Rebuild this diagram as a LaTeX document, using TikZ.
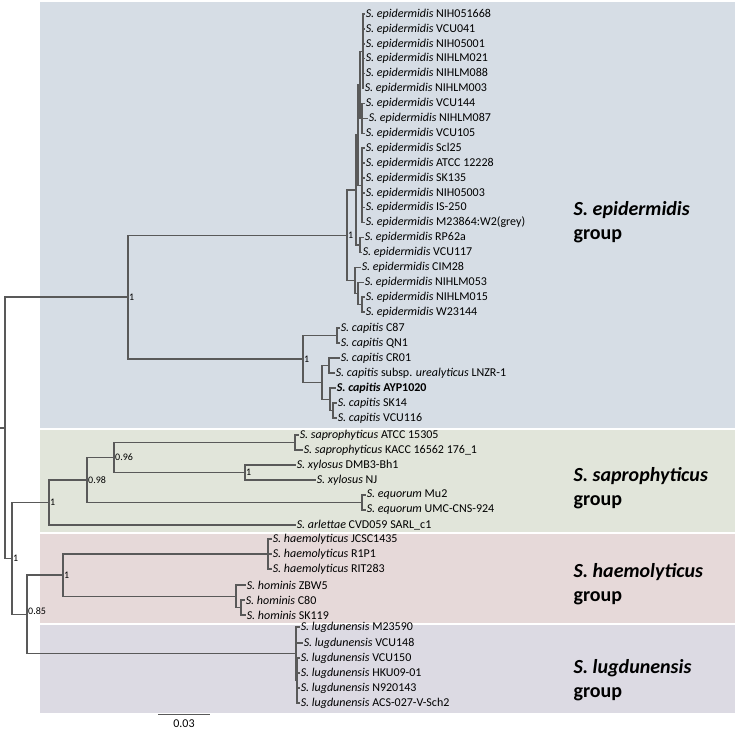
\documentclass[tikz,border=0pt]{standalone}
\usepackage{fontspec}
\setmainfont{Carlito}
\begin{document}
\begin{tikzpicture}[x=1pt,y=-1pt,
  leaf/.style={anchor=west,inner sep=0.6pt,font=\fontsize{12}{13}\selectfont},
  br/.style={draw=black!65,line width=1.4pt},
  sup/.style={anchor=west,inner sep=1pt,font=\fontsize{10}{11}\selectfont},
  grp/.style={anchor=west,align=left,font=\fontsize{20}{24}\selectfont\bfseries}]
\useasboundingbox (0,0) rectangle (735,732);
\fill[fill={rgb,255:red,214;green,221;blue,229}] (40,2) rectangle (735,428);
\fill[fill={rgb,255:red,225;green,229;blue,218}] (40,430) rectangle (735,532);
\fill[fill={rgb,255:red,230;green,217;blue,217}] (40,534) rectangle (735,623);
\fill[fill={rgb,255:red,220;green,218;blue,227}] (40,625) rectangle (735,713);
\newcommand\lf[5]{\node[leaf] (#1) at (#2,#3) {\textit{#4} #5};}
% epidermidis leaves
\lf{e0}{365}{14}{S. epidermidis}{NIH051668}
\lf{e1}{365}{28.9}{S. epidermidis}{VCU041}
\lf{e2}{365}{43.8}{S. epidermidis}{NIH05001}
\lf{e3}{365}{58.7}{S. epidermidis}{NIHLM021}
\lf{e4}{365}{73.6}{S. epidermidis}{NIHLM088}
\lf{e5}{364}{88.5}{S. epidermidis}{NIHLM003}
\lf{e6}{365}{103.4}{S. epidermidis}{VCU144}
\lf{e7}{368}{118.3}{S. epidermidis}{NIHLM087}
\lf{e8}{365}{133.2}{S. epidermidis}{VCU105}
\lf{e9}{365}{148.1}{S. epidermidis}{Scl25}
\lf{e10}{365}{163}{S. epidermidis}{ATCC 12228}
\lf{e11}{365}{177.9}{S. epidermidis}{SK135}
\lf{e12}{365}{192.8}{S. epidermidis}{NIH05003}
\lf{e13}{365}{207.7}{S. epidermidis}{IS-250}
\lf{e14}{365}{222.6}{S. epidermidis}{M23864:W2(grey)}
\lf{e15}{364}{237.5}{S. epidermidis}{RP62a}
\lf{e16}{362}{252.4}{S. epidermidis}{VCU117}
\lf{e17}{361}{267.3}{S. epidermidis}{CIM28}
\lf{e18}{364}{282.2}{S. epidermidis}{NIHLM053}
\lf{e19}{365}{297.1}{S. epidermidis}{NIHLM015}
\lf{e20}{365}{312}{S. epidermidis}{W23144}
% capitis
\lf{c0}{340}{328}{S. capitis}{C87}
\lf{c1}{340}{343}{S. capitis}{QN1}
\lf{c2}{340}{358}{S. capitis}{CR01}
\node[leaf] (c3) at (335,373) {\textit{S. capitis} subsp. \textit{urealyticus} LNZR-1};
\node[leaf] (c4) at (336,388) {\bfseries\textit{S. capitis} AYP1020};
\lf{c5}{337}{403}{S. capitis}{SK14}
\lf{c6}{337}{418}{S. capitis}{VCU116}
% saprophyticus group
\lf{s0}{299}{435}{S. saprophyticus}{ATCC 15305}
\lf{s1}{303}{450}{S. saprophyticus}{KACC 16562 176\_1}
\lf{s2}{296}{465}{S. xylosus}{DMB3-Bh1}
\lf{s3}{316}{480}{S. xylosus}{NJ}
\lf{s4}{366}{495}{S. equorum}{Mu2}
\lf{s5}{366}{510}{S. equorum}{UMC-CNS-924}
\lf{s6}{296}{525}{S. arlettae}{CVD059 SARL\_c1}
% haemolyticus group
\lf{h0}{272}{539}{S. haemolyticus}{JCSC1435}
\lf{h1}{272}{554}{S. haemolyticus}{R1P1}
\lf{h2}{272}{569}{S. haemolyticus}{RIT283}
\lf{h3}{246}{585}{S. hominis}{ZBW5}
\lf{h4}{245}{600}{S. hominis}{C80}
\lf{h5}{246}{615}{S. hominis}{SK119}
% lugdunensis
\lf{l0}{300}{627}{S. lugdunensis}{M23590}
\lf{l1}{303}{643}{S. lugdunensis}{VCU148}
\lf{l2}{300}{658}{S. lugdunensis}{VCU150}
\lf{l3}{300}{673}{S. lugdunensis}{HKU09-01}
\lf{l4}{300}{688}{S. lugdunensis}{N920143}
\lf{l5}{300}{703}{S. lugdunensis}{ACS-027-V-Sch2}
% internal nodes
\coordinate (T1) at (363,51.25);
\coordinate (T2) at (362,118.3);
\coordinate (T3) at (362,185.35);
\coordinate (T12) at (360,84.8);
\coordinate (C) at (358,135.1);
\coordinate (P1) at (360,244.95);
\coordinate (A) at (356,190);
\coordinate (B3) at (362,304.55);
\coordinate (B2) at (358,293.4);
\coordinate (B) at (355,280.35);
\coordinate (E) at (347,235.2);
\coordinate (KP) at (337,335.5);
\coordinate (KR1) at (329,365.5);
\coordinate (KR3) at (333,410.5);
\coordinate (KR2) at (330,399.25);
\coordinate (KR) at (322,382.4);
\coordinate (K) at (303,358.9);
\coordinate (EC) at (128,297);
\coordinate (SP) at (295,442.5);
\coordinate (XY) at (245,472.5);
\coordinate (G3) at (114,457.5);
\coordinate (EQ) at (362,502.5);
\coordinate (G2) at (87,480);
\coordinate (G1) at (49,502.5);
\coordinate (HA) at (268,554);
\coordinate (HS) at (241,607.5);
\coordinate (HM) at (236,596.25);
\coordinate (H) at (63,575.1);
\coordinate (LS) at (297,680.5);
\coordinate (L) at (296,653.75);
\coordinate (R3) at (27,614.4);
\coordinate (R2) at (12,558.5);
\coordinate (R) at (5,427.8);
\coordinate (Rs) at (0,427.8);
% branches
\foreach \p/\c in {T1/e0,T1/e1,T1/e2,T1/e3,T1/e4,T1/e5,T2/e6,T2/e7,T2/e8,
  T3/e9,T3/e10,T3/e11,T3/e12,T3/e13,T3/e14,P1/e15,P1/e16,B/e17,B2/e18,B3/e19,B3/e20,
  KP/c0,KP/c1,KR1/c2,KR1/c3,KR2/c4,KR3/c5,KR3/c6,
  SP/s0,SP/s1,XY/s2,XY/s3,EQ/s4,EQ/s5,G1/s6,
  HA/h0,HA/h1,HA/h2,HM/h3,HS/h4,HS/h5,
  L/l0,L/l1,LS/l2,LS/l3,LS/l4,LS/l5}
  \draw[br] (\p) |- (\c.west);
\foreach \p/\c in {T12/T1,T12/T2,C/T12,C/T3,A/C,A/P1,B2/B3,B/B2,E/A,E/B,
  KR/KR1,KR/KR2,KR2/KR3,K/KP,K/KR,EC/E,EC/K,
  G3/SP,G3/XY,G2/G3,G2/EQ,G1/G2,HM/HS,H/HA,H/HM,L/LS,
  R3/H,R3/L,R2/G1,R2/R3,R/EC,R/R2}
  \draw[br] (\p) |- (\c);
\draw[br] (Rs) -- (R);
% support values
\node[sup] at (E) {1};
\node[sup] at (EC) {1};
\node[sup] at (K) {1};
\node[sup] at (G1) {1};
\node[sup] at (G2) {0.98};
\node[sup] at (G3) {0.96};
\node[sup] at (XY) {1};
\node[sup] at (R2) {1};
\node[sup] at ([yshift=3]R3) {0.85};
\node[sup] at (H) {1};
% groups
\node[grp] at (570,222) {\textit{S. epidermidis}\\group};
\node[grp] at (570,488) {\textit{S. saprophyticus}\\group};
\node[grp] at (570,584) {\textit{S. haemolyticus}\\group};
\node[grp] at (570,680) {\textit{S. lugdunensis}\\group};
% scale bar
\coordinate (sb1) at (158,714);
\coordinate (sb2) at (210,714);
\draw[br,line width=1pt] (sb1) -- (sb2);
\node[font=\fontsize{12}{13}\selectfont] at (184,724) {0.03};
\end{tikzpicture}
\end{document}
